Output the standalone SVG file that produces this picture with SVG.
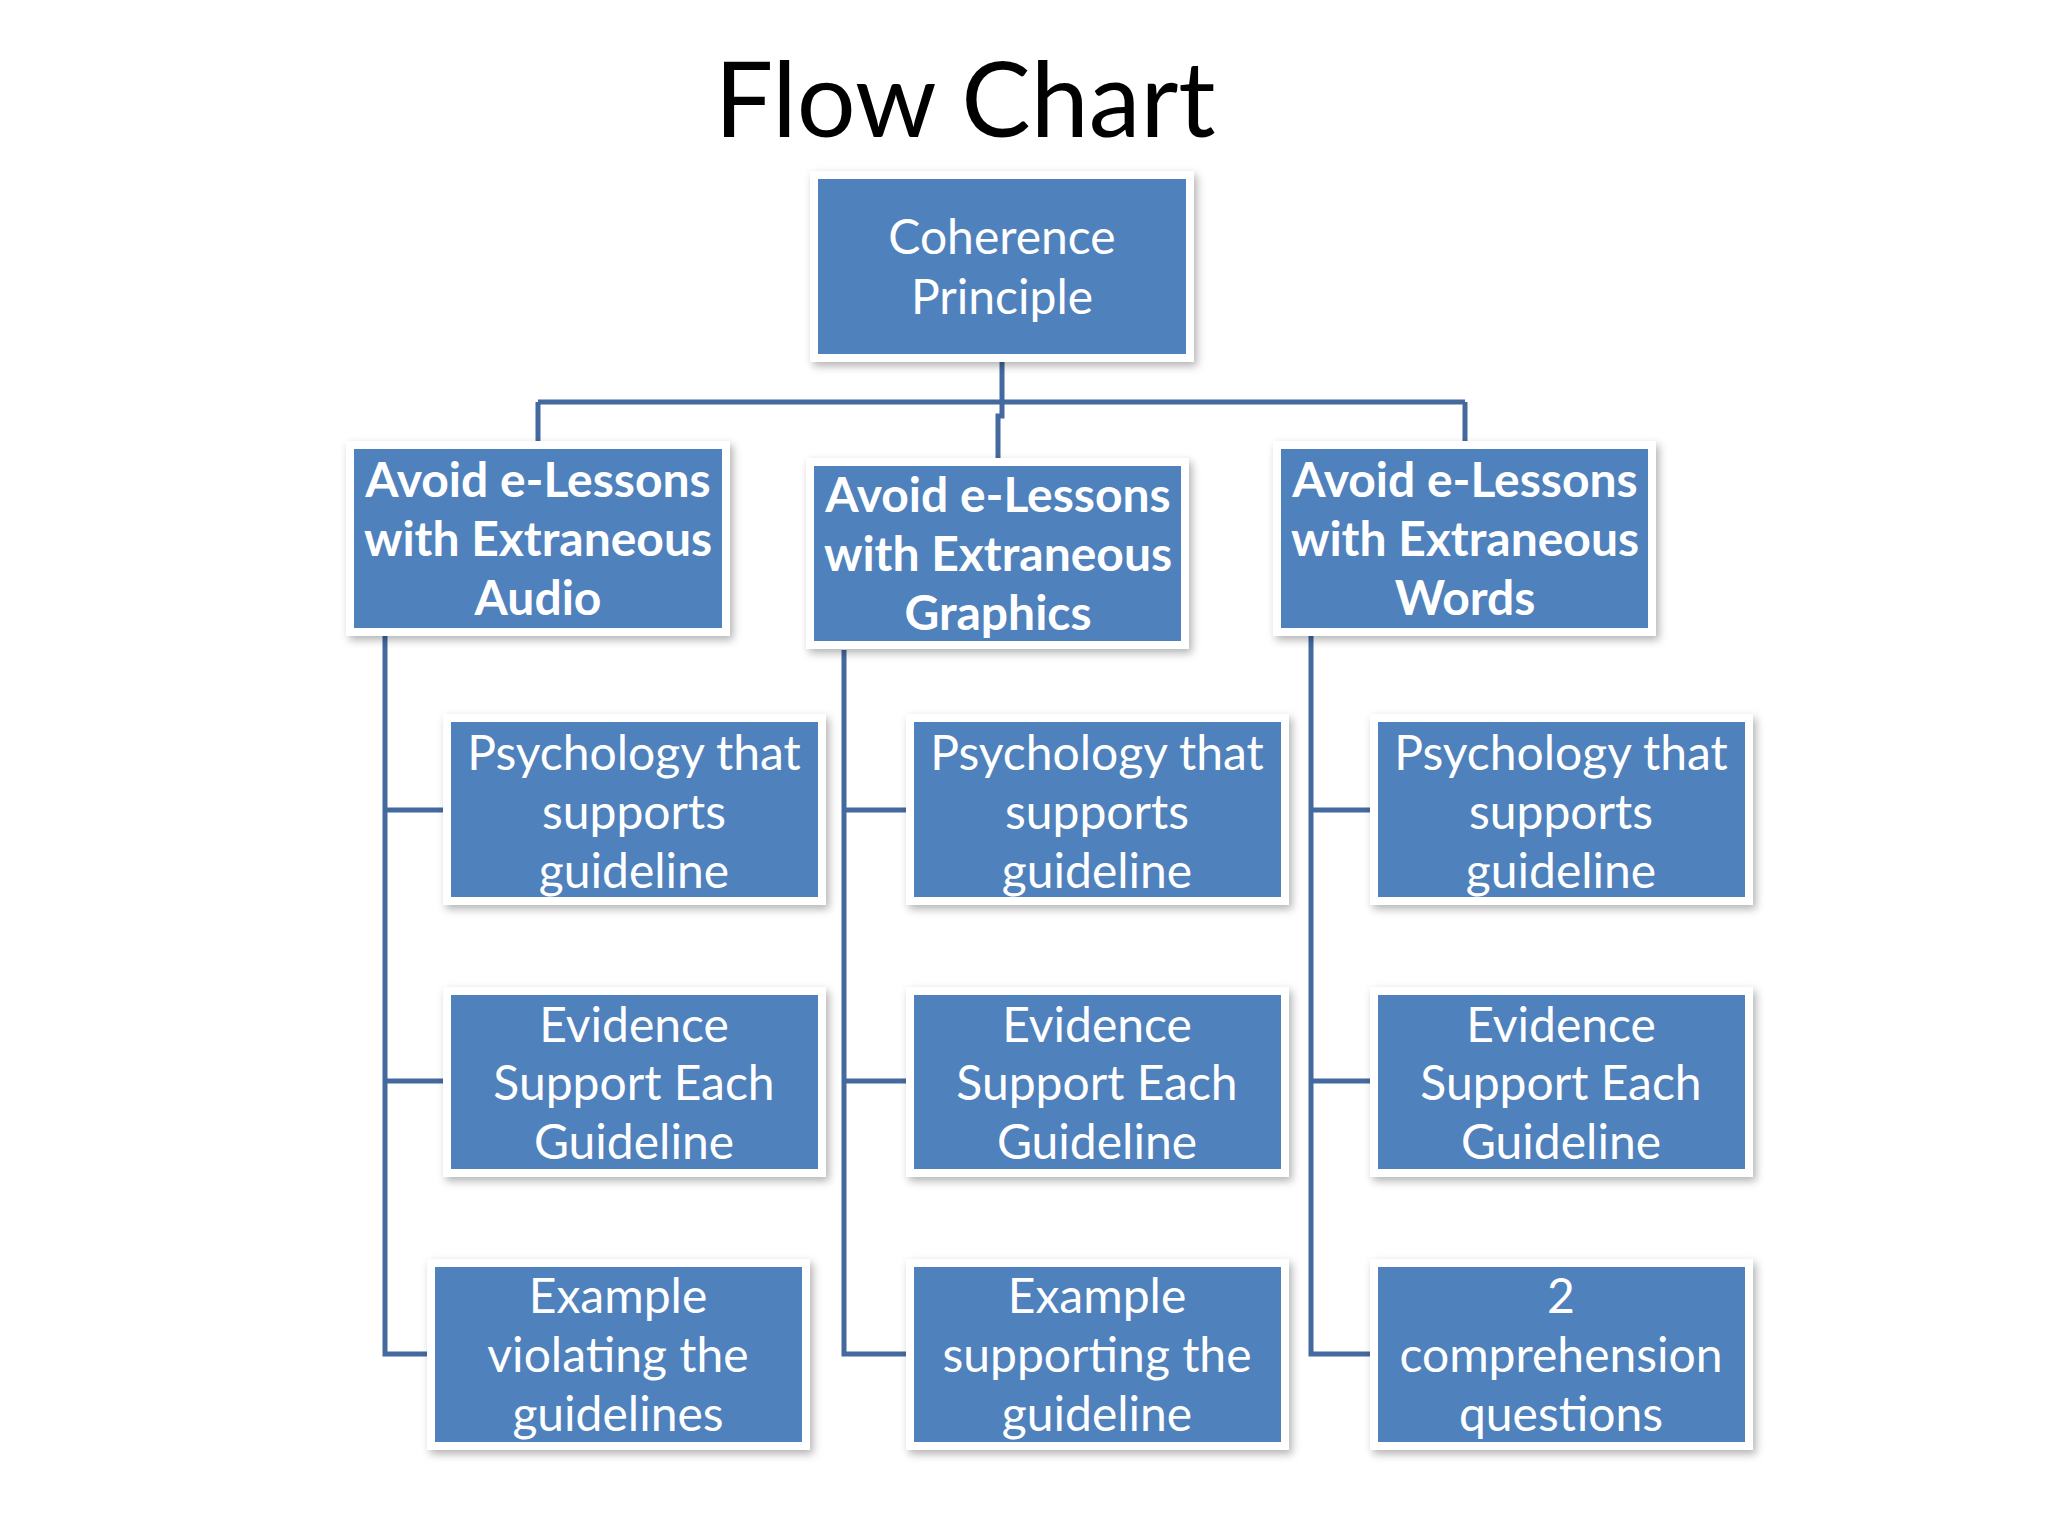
<svg xmlns="http://www.w3.org/2000/svg" width="2048" height="1536" viewBox="0 0 2048 1536">
<defs>
<filter id="sh" x="-10%" y="-10%" width="125%" height="125%"><feDropShadow dx="3" dy="4" stdDeviation="4" flood-color="#000" flood-opacity="0.3"/></filter>
<style>
.b{fill:#4F81BD;stroke:#fff;stroke-width:8;filter:url(#sh)}
.t{font-family:Lato,"Open Sans",sans-serif;font-size:48px;fill:#fff;text-anchor:middle;dominant-baseline:central}
.bd{font-weight:bold}
.c{fill:none;stroke:#44699e;stroke-width:5}
</style>
</defs>
<rect width="2048" height="1536" fill="#fff"/>
<text x="965" y="137" font-family="Lato,'Open Sans',sans-serif" font-size="104" text-anchor="middle" fill="#000">Flow Chart</text>
<g id="connectors">
<path class="c" d="M1002 362V402M538 402H1465M538 402V445M1465 402V445M1002 402V416H998V462"/>
<path class="c" d="M385 636V1354H431M385 810H447M385 1081H447"/>
<path class="c" d="M844 650V1354H910M844 810H910M844 1081H910"/>
<path class="c" d="M1311 636V1354H1374M1311 810H1374M1311 1081H1374"/>
</g>
<g id="root"><rect class="b" x="814" y="175" width="376" height="183"/><text class="t" x="1002" y="235">Coherence</text><text class="t" x="1002" y="295">Principle</text></g>
<g id="audio"><rect class="b" x="350" y="445" width="376" height="187"/><text class="t bd" x="538" y="478">Avoid e-Lessons</text><text class="t bd" x="538" y="537">with Extraneous</text><text class="t bd" x="538" y="596">Audio</text></g>
<g id="graphics"><rect class="b" x="810" y="462" width="375" height="183"/><text class="t bd" x="998" y="493">Avoid e-Lessons</text><text class="t bd" x="998" y="552">with Extraneous</text><text class="t bd" x="998" y="611">Graphics</text></g>
<g id="words"><rect class="b" x="1277" y="445" width="375" height="187"/><text class="t bd" x="1465" y="478">Avoid e-Lessons</text><text class="t bd" x="1465" y="537">with Extraneous</text><text class="t bd" x="1465" y="596">Words</text></g>
<g id="a1"><rect class="b" x="447" y="718" width="375" height="183"/><text class="t" x="634" y="751">Psychology that</text><text class="t" x="634" y="810">supports</text><text class="t" x="634" y="869">guideline</text></g>
<g id="a2"><rect class="b" x="447" y="991" width="375" height="182"/><text class="t" x="634" y="1023">Evidence</text><text class="t" x="634" y="1081">Support Each</text><text class="t" x="634" y="1140">Guideline</text></g>
<g id="a3"><rect class="b" x="431" y="1263" width="375" height="183"/><text class="t" x="618" y="1294">Example</text><text class="t" x="618" y="1353">violating the</text><text class="t" x="618" y="1412">guidelines</text></g>
<g id="g1"><rect class="b" x="910" y="718" width="375" height="183"/><text class="t" x="1097" y="751">Psychology that</text><text class="t" x="1097" y="810">supports</text><text class="t" x="1097" y="869">guideline</text></g>
<g id="g2"><rect class="b" x="910" y="991" width="375" height="182"/><text class="t" x="1097" y="1023">Evidence</text><text class="t" x="1097" y="1081">Support Each</text><text class="t" x="1097" y="1140">Guideline</text></g>
<g id="g3"><rect class="b" x="910" y="1263" width="375" height="183"/><text class="t" x="1097" y="1294">Example</text><text class="t" x="1097" y="1353">supporting the</text><text class="t" x="1097" y="1412">guideline</text></g>
<g id="w1"><rect class="b" x="1374" y="718" width="375" height="183"/><text class="t" x="1561" y="751">Psychology that</text><text class="t" x="1561" y="810">supports</text><text class="t" x="1561" y="869">guideline</text></g>
<g id="w2"><rect class="b" x="1374" y="991" width="375" height="182"/><text class="t" x="1561" y="1023">Evidence</text><text class="t" x="1561" y="1081">Support Each</text><text class="t" x="1561" y="1140">Guideline</text></g>
<g id="w3"><rect class="b" x="1374" y="1263" width="375" height="183"/><text class="t" x="1561" y="1294">2</text><text class="t" x="1561" y="1353">comprehension</text><text class="t" x="1561" y="1412">questions</text></g>
</svg>
